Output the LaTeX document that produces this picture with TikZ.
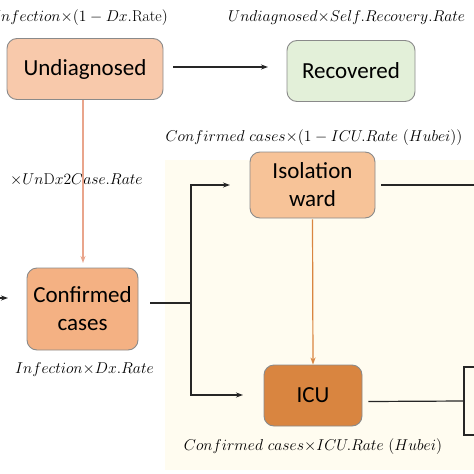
\RequirePackage{fix-cm}
\documentclass[tikz,border=0pt]{standalone}
\usepackage{fontspec}
\setsansfont{Carlito}
\usetikzlibrary{arrows.meta}
\definecolor{undx}{HTML}{F8C9AB}
\definecolor{recov}{HTML}{E3F0D9}
\definecolor{conf}{HTML}{F4B183}
\definecolor{iso}{HTML}{F7C398}
\definecolor{icu}{HTML}{D98540}
\definecolor{bord}{HTML}{8A8A8A}
\definecolor{salm}{HTML}{E9A58C}
\definecolor{orarr}{HTML}{D98540}
\definecolor{bgy}{HTML}{FFFCF0}
\tikzset{
  box/.style={draw=bord, line width=0.9pt, rounded corners=10pt, font=\sffamily\fontsize{23}{28}\selectfont, align=center, inner sep=0pt},
  lab/.style={font=\fontsize{15.7}{17}\selectfont, inner sep=0pt, text=black},
  blk/.style={draw=black!85, line width=1.2pt},
  arr/.style={-{Stealth[length=7pt,width=5pt]}},
}
\begin{document}
\begin{tikzpicture}[x=1pt,y=-1pt]
\useasboundingbox (0,0) rectangle (474,474);
\clip (0,0) rectangle (474,474);
\fill[bgy] (165,160) rectangle (474,470);
% boxes
\node[box, fill=undx, minimum width=156pt, minimum height=61pt] (und) at (85,69) {Undiagnosed};
\node[box, fill=recov, minimum width=128pt, minimum height=61pt] (rec) at (351,71) {Recovered};
\node[box, fill=conf, minimum width=111pt, minimum height=82pt] (conf) at (82.5,309) {Confirmed\\cases};
\node[box, fill=iso, minimum width=125pt, minimum height=66pt] (iso) at (312.5,185) {Isolation\\ward};
\node[box, fill=icu, minimum width=98pt, minimum height=61pt] (icu) at (313,395.5) {ICU};
% labels
\node[lab, anchor=east] (l1) at (168,18) {$Infection{\times}(1-Dx.\mathrm{Rate})$};
\node[lab, anchor=west] (l2) at (228,18) {$Undiagnosed{\times}Self.Recovery.Rate$};
\node[lab, anchor=west] (l3) at (10,180) {${\times}Un\mathrm{D}x2Case.Rate$};
\node[lab, anchor=west] (l4) at (15,370) {$Infection{\times}Dx.Rate$};
\node[lab] (l5) at (314,138) {$Confirmed\ cases{\times}(1-ICU.Rate\ (Hubei))$};
\node[lab] (l6) at (313,447) {$Confirmed\ cases{\times}ICU.Rate\ (Hubei)$};
% coordinates
\coordinate (inL) at (0,298);
\coordinate (inR) at (8,298);
\coordinate (spl) at (191,303);
\coordinate (isoOut) at (474,185);
\coordinate (br) at (464,401);
\coordinate (brT) at (474,367);
\coordinate (brB) at (474,435);
% connectors
\draw[blk, arr] (und.east) ++(10,-2) coordinate (ue) -- (268,67) coordinate (re);
\draw[salm, line width=1.2pt, arr] (und.south) ++(-2,0) coordinate (us) -- (83,263) coordinate (ct);
\draw[blk, arr] (inL) -- (inR);
\draw[blk] (conf.east) ++(12,-6) coordinate (ce) -- (spl);
\draw[blk, arr] (spl) |- (230,185) coordinate (isoIn);
\draw[blk, arr] (spl) |- (243,395) coordinate (icuIn);
\draw[blk] (iso.east) ++(6,0) coordinate (ie) -- (isoOut);
\draw[orarr, line width=1.2pt, arr] (iso.south) ++(0,1) coordinate (is) -- (icu.north);
\draw[blk] (icu.east) ++(6,6) coordinate (ice) -- (br);
\draw[blk] (brT) -| (br) |- (brB);
\end{tikzpicture}
\end{document}
